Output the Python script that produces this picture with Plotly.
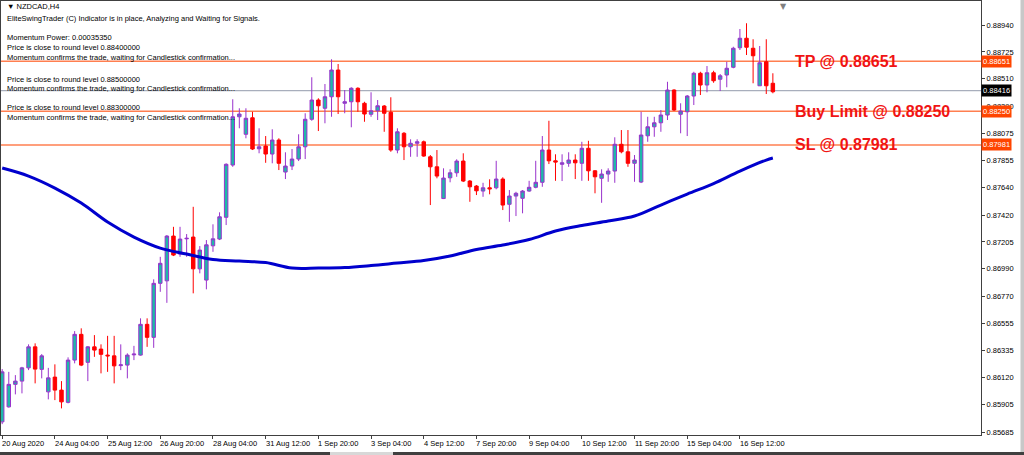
import plotly.graph_objects as go

# ---------------- data (NZDCAD, H4) ----------------
opens = [0.85766, 0.85886, 0.86066, 0.86092, 0.86198, 0.86366, 0.86186, 0.86006, 0.86124, 0.86020,
         0.85922, 0.86260, 0.86466, 0.86242, 0.86366, 0.86348, 0.86300, 0.86294, 0.86216, 0.86220,
         0.86302, 0.86300, 0.86546, 0.86442, 0.86874, 0.86894, 0.87252, 0.87108, 0.87230, 0.87244,
         0.86990, 0.86900, 0.87174, 0.87228, 0.87402, 0.87820, 0.88206, 0.88066, 0.88198, 0.87950,
         0.87972, 0.87908, 0.88020, 0.87764, 0.87812, 0.87868, 0.87966, 0.88186, 0.88340, 0.88274,
         0.88366, 0.88580, 0.88314, 0.88326, 0.88434, 0.88314, 0.88226, 0.88254, 0.88292, 0.88242,
         0.87940, 0.88074, 0.87966, 0.87994, 0.88006, 0.87886, 0.87806, 0.87552, 0.87718, 0.87758,
         0.87852, 0.87692, 0.87652, 0.87612, 0.87638, 0.87638, 0.87708, 0.87506, 0.87572, 0.87554,
         0.87612, 0.87642, 0.87682, 0.87940, 0.87854, 0.87826, 0.87834, 0.87860, 0.87834, 0.87954,
         0.87774, 0.87714, 0.87748, 0.87772, 0.87986, 0.87926, 0.87834, 0.87684, 0.88054, 0.88126,
         0.88158, 0.88220, 0.88420, 0.88226, 0.88246, 0.88372, 0.88554, 0.88460, 0.88558, 0.88506,
         0.88540, 0.88602, 0.88758, 0.88834, 0.88754, 0.88454, 0.88646, 0.88474]
highs = [0.86188, 0.86166, 0.86140, 0.86206, 0.86386, 0.86394, 0.86308, 0.86198, 0.86226, 0.86092,
         0.86282, 0.86492, 0.86514, 0.86372, 0.86460, 0.86386, 0.86454, 0.86454, 0.86386, 0.86314,
         0.86374, 0.86594, 0.86594, 0.86906, 0.87086, 0.87260, 0.87326, 0.87326, 0.87268, 0.87486,
         0.87172, 0.87220, 0.87346, 0.87442, 0.87834, 0.88346, 0.88274, 0.88274, 0.88246, 0.88114,
         0.88052, 0.88106, 0.88034, 0.87922, 0.87948, 0.88066, 0.88234, 0.88522, 0.88354, 0.88468,
         0.88666, 0.88628, 0.88420, 0.88442, 0.88442, 0.88326, 0.88402, 0.88340, 0.88300, 0.88362,
         0.88114, 0.88084, 0.88026, 0.88026, 0.88016, 0.87900, 0.87940, 0.87794, 0.87786, 0.87866,
         0.87914, 0.87700, 0.87660, 0.87678, 0.87706, 0.87854, 0.87722, 0.87620, 0.87606, 0.87620,
         0.87694, 0.87854, 0.88052, 0.88174, 0.87906, 0.87906, 0.87922, 0.87906, 0.88006, 0.88014,
         0.87780, 0.87786, 0.87794, 0.88042, 0.88100, 0.88100, 0.87900, 0.88246, 0.88206, 0.88206,
         0.88260, 0.88486, 0.88426, 0.88314, 0.88380, 0.88566, 0.88566, 0.88612, 0.88574, 0.88548,
         0.88646, 0.88766, 0.88908, 0.88954, 0.88826, 0.88772, 0.88826, 0.88554]
lows = [0.85748, 0.85880, 0.85986, 0.85994, 0.86180, 0.86074, 0.86114, 0.85946, 0.85940, 0.85874,
        0.85914, 0.86234, 0.86212, 0.86092, 0.86286, 0.86154, 0.86166, 0.86074, 0.86180, 0.86114,
        0.86260, 0.86296, 0.86366, 0.86358, 0.86806, 0.86718, 0.87092, 0.87086, 0.87086, 0.86794,
        0.86954, 0.86826, 0.87126, 0.87220, 0.87340, 0.87806, 0.88114, 0.88034, 0.87940, 0.87914,
        0.87838, 0.87834, 0.87780, 0.87708, 0.87780, 0.87852, 0.87868, 0.88174, 0.88092, 0.88154,
        0.88206, 0.88228, 0.88234, 0.88122, 0.88246, 0.88166, 0.88206, 0.88180, 0.88086, 0.87926,
        0.87914, 0.87860, 0.87886, 0.87886, 0.87886, 0.87500, 0.87714, 0.87548, 0.87682, 0.87726,
        0.87684, 0.87526, 0.87580, 0.87566, 0.87586, 0.87626, 0.87460, 0.87366, 0.87412, 0.87434,
        0.87606, 0.87634, 0.87646, 0.87828, 0.87694, 0.87692, 0.87806, 0.87708, 0.87694, 0.87694,
        0.87594, 0.87518, 0.87686, 0.87678, 0.87914, 0.87806, 0.87686, 0.87676, 0.88006, 0.88046,
        0.88086, 0.88180, 0.88252, 0.88074, 0.88052, 0.88300, 0.88380, 0.88402, 0.88478, 0.88412,
        0.88442, 0.88594, 0.88740, 0.88700, 0.88474, 0.88452, 0.88388, 0.88394]
closes = [0.86166, 0.86066, 0.86092, 0.86198, 0.86366, 0.86188, 0.86294, 0.86118, 0.86020, 0.85926,
          0.86260, 0.86466, 0.86220, 0.86366, 0.86340, 0.86306, 0.86294, 0.86214, 0.86222, 0.86300,
          0.86308, 0.86546, 0.86442, 0.86874, 0.87034, 0.87252, 0.87100, 0.87228, 0.87234, 0.86990,
          0.87140, 0.87182, 0.87230, 0.87406, 0.87826, 0.88206, 0.88228, 0.88194, 0.87948, 0.87966,
          0.87908, 0.88020, 0.87834, 0.87812, 0.87868, 0.87966, 0.88186, 0.88340, 0.88294, 0.88366,
          0.88580, 0.88366, 0.88326, 0.88434, 0.88326, 0.88228, 0.88254, 0.88294, 0.88234, 0.87940,
          0.88086, 0.87966, 0.87994, 0.88006, 0.87892, 0.87806, 0.87732, 0.87716, 0.87758, 0.87852,
          0.87692, 0.87646, 0.87614, 0.87638, 0.87630, 0.87708, 0.87500, 0.87572, 0.87594, 0.87612,
          0.87642, 0.87682, 0.87940, 0.87854, 0.87844, 0.87838, 0.87860, 0.87838, 0.87954, 0.87774,
          0.87726, 0.87748, 0.87772, 0.87986, 0.87926, 0.87834, 0.87860, 0.88060, 0.88126, 0.88158,
          0.88220, 0.88420, 0.88260, 0.88252, 0.88372, 0.88554, 0.88460, 0.88558, 0.88494, 0.88534,
          0.88594, 0.88754, 0.88834, 0.88762, 0.88694, 0.88638, 0.88454, 0.88406]
bar_index = list(range(len(opens)))

# moving average (blue line), read at every 4th bar
ma_index = [0, 4, 8, 12, 16, 20, 24, 28, 32, 36, 40, 44, 48, 52, 56, 60, 64, 68, 72, 76,
            80, 84, 88, 92, 96, 100, 104, 108, 112, 116, 117]
ma_values = [0.87796, 0.87732, 0.87636, 0.87516, 0.87364, 0.87244, 0.87156, 0.87108, 0.87064, 0.87052,
             0.87040, 0.86996, 0.86996, 0.87000, 0.87016, 0.87036, 0.87056, 0.87092, 0.87144, 0.87180,
             0.87224, 0.87292, 0.87336, 0.87372, 0.87412, 0.87500, 0.87588, 0.87672, 0.87772, 0.87860,
             0.87876]

# time axis labels (every 8 bars)
time_tick_index = [0, 8, 16, 24, 32, 40, 48, 56, 64, 72, 80, 88, 96, 104, 112]
time_tick_labels = ["20 Aug 2020", "24 Aug 04:00", "25 Aug 12:00", "26 Aug 20:00", "28 Aug 04:00",
                    "31 Aug 12:00", "1 Sep 20:00", "3 Sep 04:00", "4 Sep 12:00", "7 Sep 20:00",
                    "9 Sep 04:00", "10 Sep 12:00", "11 Sep 20:00", "15 Sep 04:00", "16 Sep 12:00"]

# price axis ticks
price_ticks = [0.88940, 0.88725, 0.88510, 0.88290, 0.88075, 0.87855, 0.87640, 0.87420,
               0.87205, 0.86990, 0.86770, 0.86555, 0.86335, 0.86120, 0.85905, 0.85685]

# trade levels
level_names = ["TP", "Buy Limit", "SL"]
level_values = [0.88651, 0.88250, 0.87981]
current_price = 0.88416

# indicator text block (top-left)
info_lines = ["\u25BC NZDCAD,H4",
              "EliteSwingTrader (C) Indicator is in place, Analyzing and Waiting for Signals.",
              "Momentum Power: 0.00035350",
              "Price is close to round level 0.88400000",
              "Momentum confirms the trade, waiting for Candlestick confirmation...",
              "Price is close to round level 0.88500000",
              "Momentum confirms the trade, waiting for Candlestick confirmation...",
              "Price is close to round level 0.88300000",
              "Momentum confirms the trade, waiting for Candlestick confirmation..."]
info_line_px = [6, 18.3, 37.7, 47.7, 57.3, 79, 88.3, 107.7, 117.7]

# ---------------- figure ----------------
W, H = 1024, 455
ML, MR, MT, MB = 1, 43, 1, 20
PW = W - ML - MR
PH = H - MT - MB
FONT = "Liberation Sans, Arial, sans-serif"
SMALL = 7.5

fig = go.Figure()

fig.add_trace(go.Candlestick(
    x=bar_index, open=opens, high=highs, low=lows, close=closes,
    increasing=dict(line=dict(color="#9932CC", width=1), fillcolor="#1FB8A8"),
    decreasing=dict(line=dict(color="#FF0000", width=1), fillcolor="#FF0000"),
    whiskerwidth=0, showlegend=False, hoverinfo="skip"))

fig.add_trace(go.Scatter(x=ma_index, y=ma_values, mode="lines",
                         line=dict(color="#0000CD", width=3, shape="spline"),
                         showlegend=False, hoverinfo="skip"))

shapes = []
for v in level_values:
    shapes.append(dict(type="line", xref="paper", x0=0, x1=1, yref="y", y0=v, y1=v,
                       line=dict(color="#FF7F50", width=1.5), layer="below"))
shapes.append(dict(type="line", xref="paper", x0=0, x1=1, yref="y", y0=current_price, y1=current_price,
                   line=dict(color="#A8AEBC", width=1.2), layer="below"))


def px_x(px):
    return (px - ML) / PW


def px_y(py):
    return (H - MB - py) / PH


# window frame decorations
shapes.append(dict(type="rect", xref="paper", yref="paper", x0=px_x(1020.5), x1=px_x(1024),
                   y0=px_y(455), y1=px_y(0), fillcolor="#C8C8C8", line=dict(width=0)))
shapes.append(dict(type="rect", xref="paper", yref="paper", x0=px_x(0), x1=px_x(1024),
                   y0=px_y(455), y1=px_y(452), fillcolor="#404040", line=dict(width=0)))
shapes.append(dict(type="rect", xref="paper", yref="paper", x0=px_x(330), x1=px_x(393),
                   y0=px_y(455), y1=px_y(452), fillcolor="#D8D8D8", line=dict(width=0)))

annotations = []
# time labels, left-aligned at their tick like MT4
for t, lab in zip(time_tick_index, time_tick_labels):
    annotations.append(dict(x=t, xref="x", y=0, yref="paper", yanchor="top", xanchor="left",
                            yshift=-2, xshift=-2, text=lab, showarrow=False,
                            font=dict(family=FONT, size=SMALL, color="#000000")))

# info text block
for txt, py in zip(info_lines, info_line_px):
    annotations.append(dict(x=0, xref="paper", xanchor="left", xshift=4,
                            y=1, yref="paper", yanchor="middle", yshift=-(py - MT),
                            text=txt, showarrow=False,
                            font=dict(family=FONT, size=SMALL, color="#000000")))

# big level labels
for name, v in zip(level_names, level_values):
    annotations.append(dict(x=px_x(793), xref="paper", xanchor="left", y=v, yref="y", yanchor="middle",
                            text=f"{name} @ {v:.5f}", showarrow=False,
                            font=dict(family=FONT, size=16, color="#F01414", weight="bold")))

# price tags on the axis
for v in level_values:
    annotations.append(dict(x=1, xref="paper", xanchor="left", y=v, yref="y", yanchor="middle",
                            text=f"{v:.5f}", showarrow=False, bgcolor="#FF4500", borderpad=1,
                            font=dict(family=FONT, size=SMALL, color="#FFFFFF")))
annotations.append(dict(x=1, xref="paper", xanchor="left", y=current_price, yref="y", yanchor="middle",
                        text=f"{current_price:.5f}", showarrow=False, bgcolor="#000000", borderpad=1,
                        font=dict(family=FONT, size=SMALL, color="#FFFFFF")))

# chart-shift marker
annotations.append(dict(x=px_x(783), xref="paper", xanchor="center", y=1, yref="paper", yanchor="top",
                        yshift=1, text="\u25BC", showarrow=False,
                        font=dict(family="DejaVu Sans", size=8, color="#808080")))

fig.update_layout(
    width=W, height=H,
    margin=dict(l=ML, r=MR, t=MT, b=MB, pad=0),
    paper_bgcolor="#FFFFFF", plot_bgcolor="#FFFFFF",
    font=dict(family=FONT, size=SMALL, color="#000000"),
    shapes=shapes, annotations=annotations,
    showlegend=False,
    boxgap=0.25,
    xaxis=dict(range=[-0.182, 148.6], showgrid=False, zeroline=False,
               showline=True, mirror=True, linecolor="#404040", linewidth=1,
               tickmode="array", tickvals=time_tick_index, showticklabels=False,
               ticks="outside", ticklen=3, tickcolor="#404040",
               rangeslider=dict(visible=False), fixedrange=True),
    yaxis=dict(range=[0.85661, 0.89132], side="right", showgrid=False, zeroline=False,
               showline=True, mirror=True, linecolor="#404040", linewidth=1,
               tickmode="array", tickvals=price_ticks, tickformat=".5f",
               ticks="outside", ticklen=3, tickcolor="#404040",
               tickfont=dict(family=FONT, size=SMALL, color="#000000"), fixedrange=True),
)

fig.write_html("out.html")
